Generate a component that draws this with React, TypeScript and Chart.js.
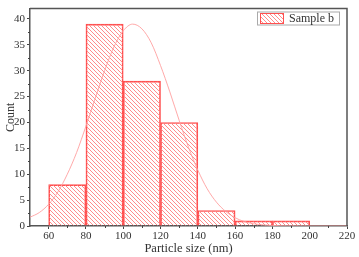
import React, { useEffect, useRef } from "react";
import { Chart, registerables } from "chart.js";

Chart.register(...registerables);

const binCenters = [70, 90, 110, 130, 150, 170, 190];
const counts = [8, 39, 28, 20, 3, 1, 1];
const curveX = [50, 55, 60, 65, 70, 75, 80, 85, 90, 95, 100, 105, 110, 115, 120, 125, 130, 135, 140, 145, 150, 155, 160, 165, 170, 175, 180, 185, 190, 200, 210, 220];
const curveY = [1.7, 2.6, 4.2, 6.6, 10.0, 14.2, 19.3, 24.7, 30.0, 34.6, 37.7, 39.0, 38.1, 35.4, 31.0, 25.9, 20.4, 15.2, 10.8, 7.2, 4.6, 2.8, 1.6, 0.85, 0.43, 0.21, 0.1, 0.04, 0.02, 0.0, 0.0, 0.0];
const xTicks = [60, 80, 100, 120, 140, 160, 180, 200, 220];
const yTicks = [0, 5, 10, 15, 20, 25, 30, 35, 40];
const seriesName = "Sample b";

const SERIF = "'Liberation Serif', 'DejaVu Serif', serif";
const BAR_BORDER = "rgb(255,80,80)";

function makeHatch(): CanvasPattern | string {
  const n = 4;
  const c = document.createElement("canvas");
  c.width = n;
  c.height = n;
  const g = c.getContext("2d");
  if (!g) return "rgba(255,120,120,0.4)";
  g.fillStyle = "rgb(255,140,140)";
  for (let x = 0; x < n; x++) {
    for (let y = 0; y < n; y++) {
      if ((x - y + n) % n === 0) g.fillRect(x, y, 1, 1);
    }
  }
  const p = g.createPattern(c, "repeat");
  return p || "rgba(255,120,120,0.4)";
}

export default function App() {
  const ref = useRef<HTMLCanvasElement | null>(null);

  useEffect(() => {
    document.body.style.margin = "0";
    const canvas = ref.current;
    if (!canvas) return;
    const hatch = makeHatch();

    const framePlugin = {
      id: "frame",
      afterDraw(chart: any) {
        const { ctx, chartArea } = chart;
        const xs = chart.scales.x;
        const ys = chart.scales.y;
        ctx.save();
        ctx.strokeStyle = "#555";
        ctx.lineWidth = 1.5;
        ctx.beginPath();
        ctx.moveTo(chartArea.left, chartArea.top);
        ctx.lineTo(chartArea.right, chartArea.top);
        ctx.lineTo(chartArea.right, chartArea.bottom);
        ctx.stroke();
        ctx.lineWidth = 1;
        ctx.strokeStyle = "#444";
        ctx.beginPath();
        for (let v = 70; v <= 210; v += 20) {
          const px = Math.round(xs.getPixelForValue(v)) + 0.5;
          ctx.moveTo(px, chartArea.bottom);
          ctx.lineTo(px, chartArea.bottom + 2);
        }
        for (let v = 2.5; v < 42; v += 5) {
          const py = Math.round(ys.getPixelForValue(v)) + 0.5;
          ctx.moveTo(chartArea.left, py);
          ctx.lineTo(chartArea.left - 2, py);
        }
        ctx.stroke();
        const lx = 257, ly = 11.5, lw = 82, lh = 13;
        ctx.fillStyle = "#fff";
        ctx.fillRect(lx, ly, lw, lh);
        ctx.strokeStyle = "#aaa";
        ctx.lineWidth = 1;
        ctx.strokeRect(lx + 0.5, ly + 0.5, lw, lh);
        ctx.fillStyle = hatch as any;
        ctx.fillRect(260, 13, 23, 10);
        ctx.strokeStyle = BAR_BORDER;
        ctx.strokeRect(260.5, 13.5, 23, 10);
        ctx.fillStyle = "#333";
        ctx.font = `12px ${SERIF}`;
        ctx.textBaseline = "middle";
        ctx.textAlign = "left";
        ctx.fillText(seriesName, 289, 18.5);
        ctx.restore();
      },
    };

    const chart = new Chart(canvas, {
      type: "bar",
      data: {
        datasets: [
          {
            type: "line",
            data: curveX.map((x, i) => ({ x, y: curveY[i] })),
            borderColor: "rgba(255,160,160,0.9)",
            borderWidth: 1,
            pointRadius: 0,
            cubicInterpolationMode: "monotone",
            fill: false,
            order: 0,
          } as any,
          {
            type: "bar",
            data: binCenters.map((x, i) => ({ x, y: counts[i] })),
            backgroundColor: hatch as any,
            borderColor: BAR_BORDER,
            borderWidth: 1,
            barPercentage: 1,
            categoryPercentage: 1,
            order: 1,
          } as any,
        ],
      },
      options: {
        animation: false,
        responsive: false,
        maintainAspectRatio: false,
        layout: { padding: { top: 7, right: 12, left: 0, bottom: 0 } },
        plugins: { legend: { display: false }, tooltip: { enabled: false } },
        scales: {
          x: {
            type: "linear",
            offset: false,
            min: 50,
            max: 220,
            afterBuildTicks: (s: any) => {
              s.ticks = xTicks.map((v) => ({ value: v }));
            },
            afterFit: (s: any) => {
              s.height = 31;
            },
            grid: { offset: false, drawOnChartArea: false, drawTicks: true, tickLength: 3, color: "#444" },
            border: { display: true, color: "#555", width: 1.5 },
            ticks: { color: "#333", font: { family: SERIF, size: 11 }, padding: 1, maxRotation: 0, autoSkip: false },
            title: { display: true, text: "Particle size (nm)", color: "#333", font: { family: SERIF, size: 12.5 }, padding: { top: 0, bottom: 1 } },
          },
          y: {
            type: "linear",
            min: 0,
            max: 42,
            afterBuildTicks: (s: any) => {
              s.ticks = yTicks.map((v) => ({ value: v }));
            },
            afterFit: (s: any) => {
              s.width = 30;
            },
            grid: { drawOnChartArea: false, drawTicks: true, tickLength: 3, color: "#444" },
            border: { display: true, color: "#555", width: 1.5 },
            ticks: { color: "#333", font: { family: SERIF, size: 11 }, padding: 2, autoSkip: false },
            title: { display: true, text: "Count", color: "#333", font: { family: SERIF, size: 12 }, padding: { top: 4, bottom: 2 } },
          },
        },
      } as any,
      plugins: [framePlugin],
    });

    return () => chart.destroy();
  }, []);

  return (
    <div style={{ position: "fixed", left: 0, top: 0, width: 359, height: 257, background: "#fff" }}>
      <canvas ref={ref} width={359} height={257} style={{ display: "block", width: 359, height: 257 }} />
    </div>
  );
}
